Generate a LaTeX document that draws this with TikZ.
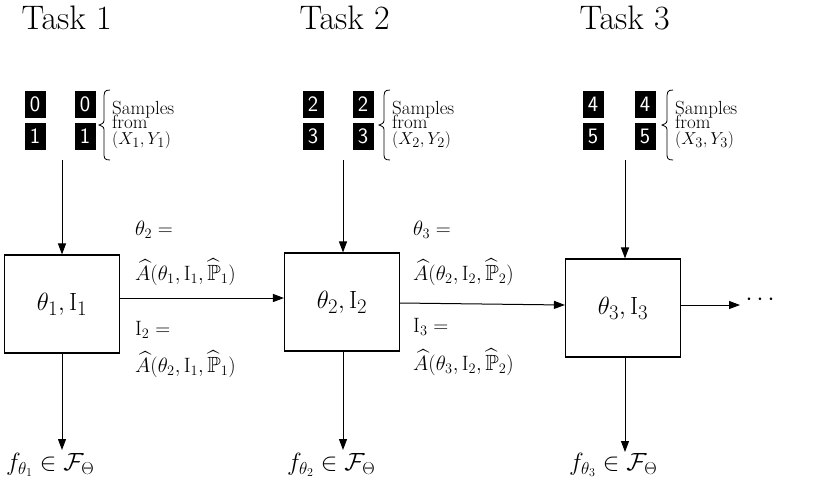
\documentclass[tikz,border=0pt]{standalone}
\usepackage{amsmath,amssymb}
\usetikzlibrary{arrows.meta}
\begin{document}
\begin{tikzpicture}[x=1pt,y=-1pt,
 box/.style={draw,line width=1.1pt,minimum width=115pt,minimum height=98pt,font=\fontsize{30}{34}\selectfont},
 arr/.style={line width=1pt,-{Triangle[length=11pt,width=8pt]}},
 title/.style={anchor=west,font=\fontsize{34}{38}\selectfont},
 lab/.style={anchor=west,font=\fontsize{22}{24}\selectfont,inner sep=0pt},
 samp/.style={anchor=west,font=\fontsize{19}{19}\selectfont,align=left,inner sep=0pt},
 dig/.style={fill=black,text=white,minimum width=21pt,minimum height=27pt,inner sep=0pt,font=\sffamily\fontsize{22}{22}\selectfont}]
\useasboundingbox (0,0) rectangle (818,488);
% titles
\node[title] (t1) at (18,18) {Task 1};
\node[title] (t2) at (296,18) {Task 2};
\node[title] (t3) at (576,18) {Task 3};
% digit images
\foreach \n/\x/\a/\b in {a/35/0/1,b/85/0/1,c/313/2/3,d/363/2/3,e/593/4/5,f/645/4/5}{
 \node[dig] (\n u) at (\x,104) {\a};
 \node[dig] (\n l) at (\x,136) {\b};
}
% braces and sample text
\foreach \x/\i in {101/1,381/2,664/3}{
 \node[samp] (s\i) at (\x+11,125) {Samples\\[-5pt]from\\[-3pt]$(X_\i,Y_\i)$};
 \draw[line width=0.8pt] (\x+9,90) .. controls (\x+3,90) and (\x+3,92) .. (\x+3,100) -- (\x+3,118) .. controls (\x+3,123) .. (\x-2,125) .. controls (\x+3,127) .. (\x+3,132) -- (\x+3,152) .. controls (\x+3,158) and (\x+3,160) .. (\x+9,160);
}
% boxes
\node[box] (b1) at (62,304) {$\theta_1,\mathrm{I}_1$};
\node[box] (b2) at (342,302) {$\theta_2,\mathrm{I}_2$};
\node[box] (b3) at (623,308) {$\theta_3,\mathrm{I}_3$};
\coordinate (c1) at (62,160);
\coordinate (c2) at (343,160);
\coordinate (c3) at (625,160);
\draw[arr] (c1) -- (b1.north);
\draw[arr] (c2) -- (b2.north -| c2);
\draw[arr] (c3) -- (b3.north -| c3);
\draw[arr] (b1.east |- 0,298) -- (b2.west |- 0,298);
\draw[arr] (b2.east |- 0,303) -- (b3.west |- 0,305);
\coordinate (e3) at (740,305);
\draw[arr] (b3.east |- e3) -- (e3);
\node[anchor=west,font=\fontsize{30}{30}\selectfont] (dots) at (742,300) {$\cdots$};
% outputs
\node[anchor=west,font=\fontsize{24}{26}\selectfont,inner sep=0pt] (f1) at (6,465) {$f_{\theta_1}\in\mathcal{F}_\Theta$};
\node[anchor=west,font=\fontsize{24}{26}\selectfont,inner sep=0pt] (f2) at (287,465) {$f_{\theta_2}\in\mathcal{F}_\Theta$};
\node[anchor=west,font=\fontsize{24}{26}\selectfont,inner sep=0pt] (f3) at (569,465) {$f_{\theta_3}\in\mathcal{F}_\Theta$};
\draw[arr] (b1.south) -- (62,450);
\draw[arr] (b2.south -| c2) -- (343,450);
\draw[arr] (b3.south -| c3) -- (625,452);
% transition labels
\node[lab] (l1) at (135,230) {$\theta_2 =$};
\node[lab] (l2) at (135,272) {$\widehat{A}(\theta_1,\mathrm{I}_1,\widehat{\mathbb{P}}_1)$};
\node[lab] (l3) at (135,330) {$\mathrm{I}_2 =$};
\node[lab] (l4) at (135,364) {$\widehat{A}(\theta_2,\mathrm{I}_1,\widehat{\mathbb{P}}_1)$};
\node[lab] (m1) at (413,230) {$\theta_3 =$};
\node[lab] (m2) at (413,272) {$\widehat{A}(\theta_2,\mathrm{I}_2,\widehat{\mathbb{P}}_2)$};
\node[lab] (m3) at (413,327) {$\mathrm{I}_3 =$};
\node[lab] (m4) at (413,362) {$\widehat{A}(\theta_3,\mathrm{I}_2,\widehat{\mathbb{P}}_2)$};
\end{tikzpicture}
\end{document}
